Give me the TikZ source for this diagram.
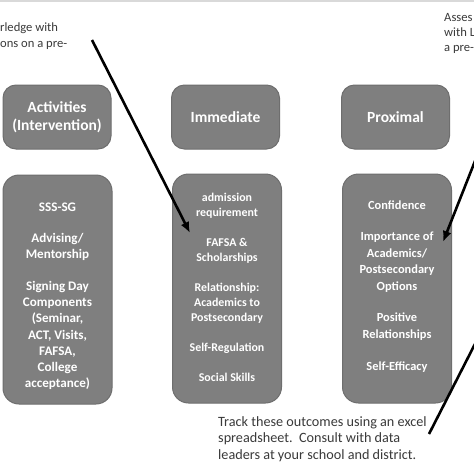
\documentclass[tikz,border=0pt]{standalone}
\usepackage{fontspec}
\setmainfont{Carlito}
\usetikzlibrary{arrows.meta}
\definecolor{boxfill}{HTML}{7F7F7F}
\definecolor{boxdraw}{HTML}{6E6E6E}
\definecolor{notetext}{HTML}{3A3A3A}
\tikzset{
  hdrbox/.style={draw=boxdraw, line width=1pt, fill=boxfill, rounded corners=13pt,
    minimum width=108pt, minimum height=64pt, inner sep=0pt, text=white, align=center,
    font=\bfseries\fontsize{15.5}{18}\selectfont},
  colbox/.style={draw=boxdraw, line width=1pt, fill=boxfill, rounded corners=16pt,
    minimum width=109pt, minimum height=229pt, inner sep=0pt},
  itemtxt/.style={text=white, align=center, inner sep=0pt,
    font=\bfseries\fontsize{11.5}{15.5}\selectfont},
  notetxt/.style={text=notetext, align=left, inner sep=0pt, anchor=base west,
    font=\fontsize{12}{16}\selectfont},
  ptr/.style={line width=2.6pt, black},
}
\begin{document}
\begin{tikzpicture}[x=1pt,y=-1pt]
\useasboundingbox (0,0) rectangle (474,474);
\fill[fill=white] (0,0) rectangle (474,474);
\fill[fill=black!15] (0,0) rectangle (474,2);
% header boxes
\node[hdrbox] (hact) at (57,117) {Activities\\(Intervention)};
\node[hdrbox] (himm) at (225.5,117) {Immediate};
\node[hdrbox] (hpro) at (395.5,117) {Proximal};
% column boxes
\node[colbox] (cact) at (57.5,289.5) {};
\node[colbox] (cimm) at (227,288.5) {};
\node[colbox] (cpro) at (397,288.5) {};
% left column items
\begin{scope}[every node/.style={itemtxt, font=\bfseries\fontsize{13.1}{16.3}\selectfont}]
\node (l1) at (57.5,207) {SSS-SG};
\node (l2) at (57.5,247) {Advising/\\Mentorship};
\node (l3) at (57.5,335.5) {Signing Day\\Components\\(Seminar,\\ACT, Visits,\\FAFSA,\\College\\acceptance)};
\end{scope}
% middle column items
\begin{scope}[every node/.style={itemtxt, font=\bfseries\fontsize{11.9}{14.8}\selectfont}]
\node (m1) at (227,206) {admission\\requirement};
\node (m2) at (227,250.5) {FAFSA \&\\Scholarships};
\node (m3) at (227,303) {Relationship:\\Academics to\\Postsecondary};
\node (m4) at (227,348) {Self-Regulation};
\node (m5) at (227,377) {Social Skills};
\end{scope}
% right column items
\begin{scope}[every node/.style={itemtxt, font=\bfseries\fontsize{12.4}{16.5}\selectfont}]
\node (r1) at (397,205) {Confidence};
\node (r2) at (397,262) {Importance of\\Academics/\\Postsecondary\\Options};
\node (r3) at (397,326.5) {Positive\\Relationships};
\node (r4) at (397,367) {Self-Efficacy};
\end{scope}
% notes (anchor base = baseline of last line)
\node[notetxt, font=\fontsize{12.6}{16}\selectfont] (ntl) at (0,47) {rledge with\\ons on a pre-};
\node[notetxt, font=\fontsize{12.6}{15}\selectfont] (ntr) at (444,51) {Asses\\with L\\a pre-};
\node[notetxt, font=\fontsize{14.2}{16.5}\selectfont] (nbot) at (218,459) {Track these outcomes using an excel\\spreadsheet.\ \ Consult with data\\leaders at your school and district.};
% pointer lines
\coordinate (a1s) at (92,40);
\coordinate (a1e) at (190,233);
\coordinate (a2s) at (477,156);
\coordinate (a2e) at (443,242);
\coordinate (a3s) at (429,434);
\coordinate (a3e) at (477,340);
\draw[ptr, -{Latex[length=11pt,width=9pt]}] (a1s) -- (a1e);
\draw[ptr, -{Latex[length=11pt,width=9pt]}] (a2s) -- (a2e);
\draw[ptr] (a3s) -- (a3e);
\end{tikzpicture}
\end{document}
